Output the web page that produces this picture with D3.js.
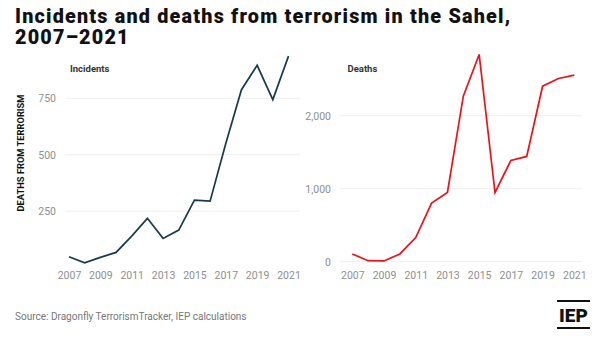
<!DOCTYPE html>
<html><head><meta charset="utf-8">
<script src="https://cdn.jsdelivr.net/npm/d3@7"></script>
<style>body{margin:0;background:#fff}svg{display:block}</style>
</head><body>
<svg id="c" width="600" height="338"></svg>
<script>
const years = [2007,2008,2009,2010,2011,2012,2013,2014,2015,2016,2017,2018,2019,2020,2021];
const incidents = [48,21,45,67,139,218,129,166,299,294,550,788,896,744,937];
const deaths = [106,14,10,106,330,802,948,2267,2839,948,1387,1442,2404,2510,2555];
const xTicks = [2007,2009,2011,2013,2015,2017,2019,2021];
const incTicks = [250,500,750];
const deathTicks = [0,1000,2000];
const titleLines = ["Incidents and deaths from terrorism in the Sahel,","2007\u20132021"];
const yTitle = "DEATHS FROM TERRORISM";
const source = "Source: Dragonfly TerrorismTracker, IEP calculations";

const svg = d3.select("#c");
const F = "Roboto, 'Liberation Sans', sans-serif";

// title
const titleFs = 19.8;
const tEls = titleLines.map((l,i)=>svg.append("text").attr("x",15).attr("y",[22.8,43.6][i])
  .attr("font-family",F).attr("font-weight",900).attr("font-size",titleFs)
  .attr("fill","#111").text(l));
const w = tEls[0].node().getComputedTextLength();
const ls = (495 - w) / (titleLines[0].length - 1);
tEls.forEach(e=>e.attr("letter-spacing",ls));

const xL = d3.scaleLinear().domain([2007,2021]).range([69,288.5]);
const yL = d3.scaleLinear().domain([0,750]).range([267.5,98.3]);
const xR = d3.scaleLinear().domain([2007,2021]).range([352.3,574.3]);
const yR = d3.scaleLinear().domain([0,2000]).range([261.7,115.7]);

function panel(x, y, ticks, gx0, gx1, data, color, label, lx, fmt){
  const g = svg.append("g");
  const ay = d3.axisLeft(y).tickValues(ticks).tickSize(0).tickFormat(fmt);
  const ga = g.append("g").attr("transform",`translate(${gx0},0)`).call(ay);
  ga.select(".domain").remove();
  ga.selectAll("text").attr("font-family",F).attr("font-size",10.5).attr("fill","#8f8f8f").attr("dx",-6).attr("dy","0.35em");
  g.selectAll("line.grid").data(ticks).join("line").attr("class","grid")
    .attr("x1",gx0).attr("x2",gx1).attr("y1",d=>y(d)).attr("y2",d=>y(d))
    .attr("stroke","#efefef").attr("stroke-width",1);
  const ax = d3.axisBottom(x).tickValues(xTicks).tickSize(0).tickFormat(d3.format("d"));
  const gx = g.append("g").attr("transform",`translate(0,${269})`).call(ax);
  gx.select(".domain").remove();
  gx.selectAll("text").attr("font-family",F).attr("font-size",10.5).attr("fill","#8f8f8f").attr("dy","0.71em");
  g.append("path").datum(data.map((v,i)=>[years[i],v]))
    .attr("fill","none").attr("stroke",color).attr("stroke-width",1.7).attr("stroke-linejoin","miter")
    .attr("d",d3.line().x(d=>x(d[0])).y(d=>y(d[1])));
  g.append("text").attr("x",lx).attr("y",72).attr("font-family",F).attr("font-weight",700)
    .attr("font-size",9.5).attr("fill","#333").text(label);
}
panel(xL,yL,incTicks,65,300,incidents,"#173a4c","Incidents",70,d3.format("d"));
panel(xR,yR,deathTicks,340,582,deaths,"#e8141c","Deaths",347.5,d3.format(","));

// y title
svg.append("text").attr("transform","translate(24,153) rotate(-90)").attr("text-anchor","middle")
  .attr("font-family",F).attr("font-weight",700).attr("font-size",9.3).attr("fill","#111").text(yTitle);

// source
svg.append("text").attr("x",15).attr("y",320).attr("font-family",F).attr("font-size",10)
  .attr("fill","#777").text(source);

// IEP logo
const lg = svg.append("g");
lg.append("rect").attr("x",557).attr("y",300).attr("width",33).attr("height",2).attr("fill","#111");
lg.append("rect").attr("x",557).attr("y",327).attr("width",33).attr("height",2).attr("fill","#111");
lg.append("text").attr("x",573.5).attr("y",322).attr("text-anchor","middle").attr("font-family",F)
  .attr("font-weight",900).attr("font-size",19).attr("fill","#111").text("IEP");
</script>
</body></html>
